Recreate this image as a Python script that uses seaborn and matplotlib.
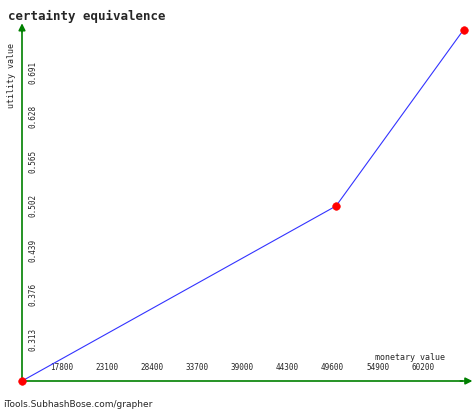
import matplotlib
matplotlib.use("Agg")
import matplotlib.pyplot as plt
import seaborn as sb
import pandas as pd

# dados
monetary = [13100, 50000, 65000]
utility = [0.252, 0.5, 0.75]
xticks = [17800, 23100, 28400, 33700, 39000, 44300, 49600, 54900, 60200]
yticks = [0.313, 0.376, 0.439, 0.502, 0.565, 0.628, 0.691]

df = pd.DataFrame({"monetary value": monetary, "utility value": utility})

sb.set_style("white")
plt.rcParams['font.family'] = ['DejaVu Sans Mono']
fig = plt.figure(figsize=(4.74, 4.14), dpi=100)
ax = fig.add_axes([22/474, 32/414, 440/474, 350/414])

sb.lineplot(data=df, x="monetary value", y="utility value", color="#3333ff", linewidth=0.8, ax=ax)
sb.scatterplot(data=df, x="monetary value", y="utility value", color="red", s=30, edgecolor="red", zorder=5, ax=ax, clip_on=False)

ax.set_xlim(13100, 64800)
ax.set_ylim(0.252, 0.748)
ax.set_xticks(xticks)
ax.set_yticks(yticks)
ax.set_xticklabels([str(v) for v in xticks], fontsize=5.5)
ax.set_yticklabels([f"{v:.3f}" for v in yticks], fontsize=5.5, rotation=90, va="center")
ax.tick_params(axis="both", length=6, color="green", direction="inout", width=1)
ax.tick_params(axis="x", pad=-10)
ax.tick_params(axis="y", pad=-14)
for t in ax.get_xticklabels():
    t.set_verticalalignment("bottom")
for s in ["top", "right"]:
    ax.spines[s].set_visible(False)
for s in ["left", "bottom"]:
    ax.spines[s].set_color("green")
    ax.spines[s].set_linewidth(1.2)
ax.set_xlabel("")
ax.set_ylabel("")

# setas dos eixos
ax.annotate("", xy=(1.03, 0), xytext=(0.99, 0), xycoords="axes fraction",
            arrowprops=dict(arrowstyle="-|>", color="green", lw=1.2), annotation_clip=False)
ax.annotate("", xy=(0, 1.03), xytext=(0, 0.99), xycoords="axes fraction",
            arrowprops=dict(arrowstyle="-|>", color="green", lw=1.2), annotation_clip=False)

fig.text(8/474, 1 - 16/414, "certainty equivalence", fontsize=9, fontweight="bold", va="center")
fig.text(12/474, 1 - 75/414, "utility value", fontsize=6, rotation=90, va="center", ha="center")
fig.text(445/474, 1 - 358/414, "monetary value", fontsize=6, ha="right", va="center")
fig.text(3/474, 1 - 405/414, "iTools.SubhashBose.com/grapher", family=["DejaVu Sans"], fontsize=6.5, va="center")

fig.savefig("out.png", dpi=100)
